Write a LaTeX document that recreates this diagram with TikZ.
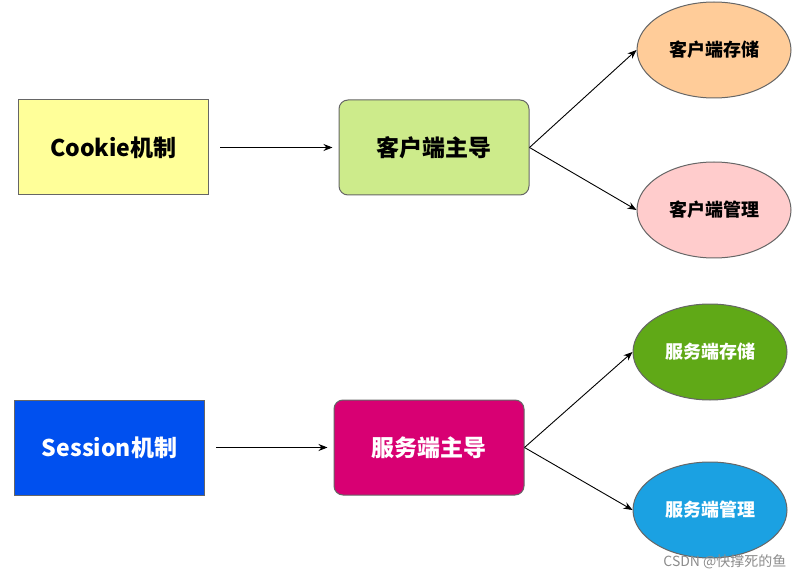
\documentclass[tikz,border=0pt]{standalone}
\usepackage{fontspec}
\setmainfont{Noto Sans CJK SC}
\usetikzlibrary{shapes.geometric,arrows.meta}
\definecolor{cyel}{HTML}{FFFF99}
\definecolor{cgrn}{HTML}{CDEB8B}
\definecolor{corg}{HTML}{FFCC99}
\definecolor{cpnk}{HTML}{FFCCCC}
\definecolor{sblu}{HTML}{0050EF}
\definecolor{smag}{HTML}{D80073}
\definecolor{sgrn}{HTML}{60A917}
\definecolor{scyn}{HTML}{1BA1E2}
\tikzset{
 box/.style={draw=black!60,line width=1pt,minimum width=190pt,minimum height=95pt,font=\fontsize{23}{26}\selectfont\bfseries},
 rbox/.style={box,rounded corners=9pt},
 ell/.style={ellipse,draw=black!60,line width=1pt,minimum width=154pt,minimum height=96pt,font=\fontsize{18}{20}\selectfont\bfseries},
 arr/.style={-{Stealth[length=9pt,width=7pt]},line width=0.9pt}
}
\begin{document}
\begin{tikzpicture}[x=1pt,y=-1pt]
\useasboundingbox (0,0) rectangle (798,580);
\node[box,fill=cyel] (ck) at (113.5,147.5) {Cookie机制};
\node[rbox,fill=cgrn] (kz) at (434,147.5) {客户端主导};
\node[ell,fill=corg] (kc) at (714,50) {客户端存储};
\node[ell,fill=cpnk] (kg) at (714,210) {客户端管理};
\node[box,fill=sblu,text=white] (ss) at (109.5,447.5) {Session机制};
\node[rbox,fill=smag,text=white] (fz) at (429,447.5) {服务端主导};
\node[ell,fill=sgrn,text=white] (fc) at (710,352) {服务端存储};
\node[ell,fill=scyn,text=white] (fg) at (710,510) {服务端管理};
\coordinate (a1) at (220,147.5);
\coordinate (a2) at (216,447.5);
\draw[arr] (a1) -- ([xshift=-6pt]kz.west);
\draw[arr] (a2) -- ([xshift=-6pt]fz.west);
\draw[arr] (kz.east) -- (kc.west);
\draw[arr] (kz.east) -- (kg.west);
\draw[arr] (fz.east) -- (fc.west);
\draw[arr] (fz.east) -- (fg.west);
\node[text=black!45,font=\fontsize{14}{16}\selectfont,anchor=east] (wm) at (790,562) {CSDN @快撑死的鱼};
\end{tikzpicture}
\end{document}
